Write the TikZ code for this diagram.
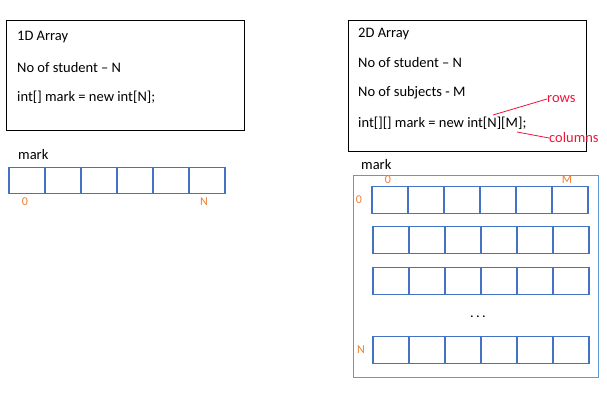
\documentclass[tikz,border=0pt]{standalone}
\usepackage{fontspec}
\setmainfont{Carlito}
\usetikzlibrary{positioning}
\definecolor{cellblue}{HTML}{4472C4}
\definecolor{boxblue}{HTML}{5B9BD5}
\definecolor{idxorange}{HTML}{ED7D31}
\definecolor{notered}{HTML}{F0143C}

\begin{document}
\begin{tikzpicture}[x=1pt, y=-1pt, inner sep=0pt,
      txt/.style={anchor=west, font=\fontsize{14.5}{16}\selectfont},
      frame/.style={draw, line width=0.8pt},
      cell/.style={draw=cellblue, line width=1.1pt, minimum width=36pt, minimum height=26.5pt},
      idx/.style={text=idxorange, font=\fontsize{12}{14}\selectfont},
      note/.style={anchor=west, text=notered, font=\fontsize{14.5}{16}\selectfont}]
      \useasboundingbox (0,0) rectangle (607,403);
      % 1D array box
      \node[frame, minimum width=238pt, minimum height=110pt] (box1) at (125,75) {};
      \node[txt] (t1a) at (17,37) {1D Array};
      \node[txt] (t1b) at (17,68) {No of student -- N};
      \node[txt] (t1c) at (17,97) {int[] mark = new int[N];};
      % 2D array box
      \node[frame, minimum width=238pt, minimum height=131pt] (box2) at (467,85.5) {};
      \node[txt] (t2a) at (358,34) {2D Array};
      \node[txt] (t2b) at (358,63) {No of student -- N};
      \node[txt] (t2c) at (358,93) {No of subjects - M};
      \node[txt] (t2d) at (358,123) {int[][] mark = new int[N][M];};
      % rows, columns
      \coordinate (rowsend) at (493,115);
      \coordinate (colsend) at (517,132);
      \node[note] (rows) at (547,99) {rows};
      \node[note] (columns) at (549,138) {columns};
      \draw[notered, line width=0.8pt] (rowsend) -- (rows.west);
      \draw[notered, line width=0.8pt] (colsend) -- (columns.west);
      % 1D array
      \node[txt] (mark1) at (18,155) {mark};
      \foreach \i in {0,...,5}
        \node[cell] (a-\i) at ({27+36*\i},180.5) {};
      \node[idx] (a0) at (25,202) {0};
      \node[idx] (aN) at (204,202) {N};
      % 2D array
      \node[txt] (mark2) at (361,165) {mark};
      \node[draw=boxblue, line width=0.9pt, minimum width=245pt, minimum height=202pt] (grid) at (475.5,276) {};
      \foreach \r/\x/\y in {1/372/200, 2/373/240, 3/373/281, 4/373/350}
        \foreach \i in {0,...,5}
          \node[cell] (m-\r-\i) at ({\x+18+36*\i},\y) {};
      \node[idx] (c0) at (388,180) {0};
      \node[idx] (cM) at (567,180) {M};
      \node[idx] (r0) at (359,200) {0};
      \node[idx] (rN) at (361,350) {N};
      \node[font=\fontsize{14.5}{16}\selectfont] (dots) at (478,317) {.\,.\,.};
\end{tikzpicture}
\end{document}
